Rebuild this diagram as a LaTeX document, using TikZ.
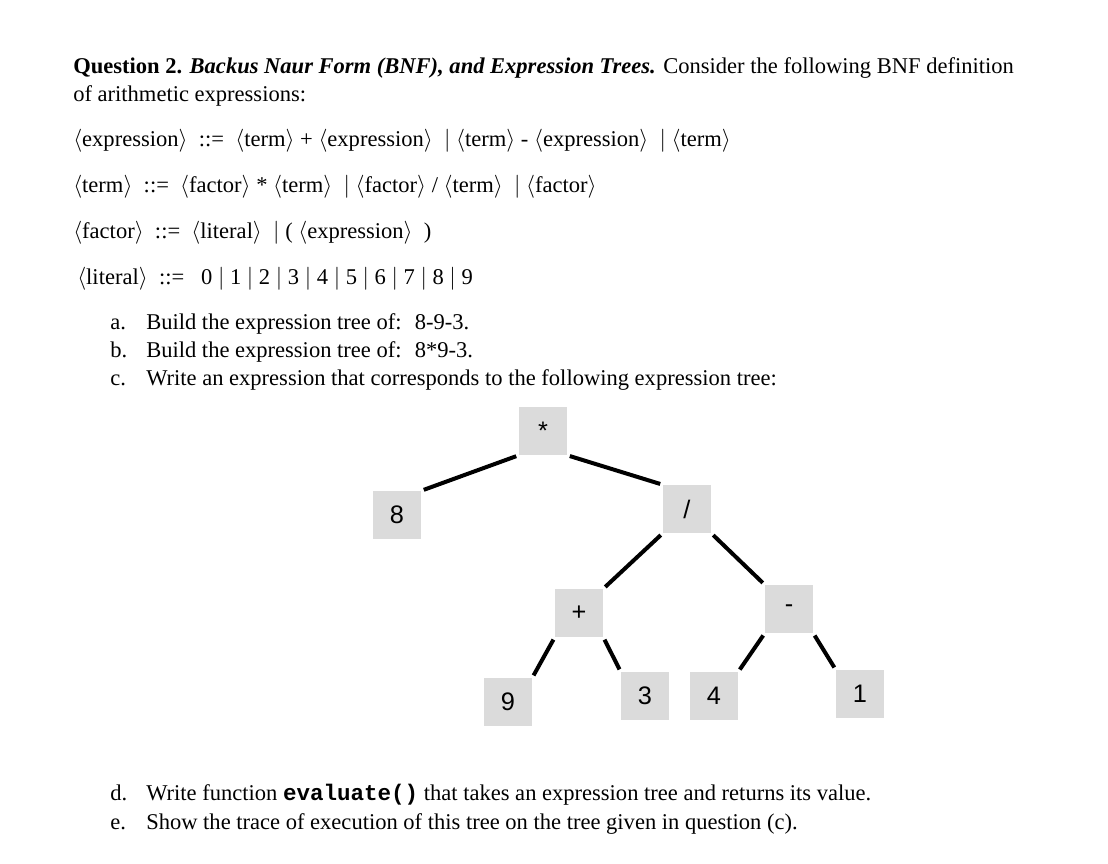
\documentclass[tikz,border=0pt]{standalone}
\usepackage{fontspec}
\setmainfont{Liberation Serif}
\setsansfont{Liberation Sans}
\setmonofont{Liberation Mono}
\begin{document}
\begin{tikzpicture}[x=0.75pt,y=-0.75pt,
  txt/.style={anchor=base west,inner sep=0pt,font=\fontsize{16.9}{20}\selectfont},
  tn/.style={fill=black!14,minimum width=36pt,minimum height=36pt,inner sep=0pt,font=\sffamily\fontsize{19}{22}\selectfont},
  edge/.style={line width=3pt,shorten >=2pt,shorten <=2pt}]
\useasboundingbox (0,0) rectangle (1108,864);
\newcommand{\nt}[1]{$\langle$#1$\rangle$}
\node[txt] (q1) at (73,73) {\textbf{Question 2.} \textbf{\textit{Backus Naur Form (BNF), and Expression Trees.}} Consider the following BNF definition};
\node[txt] (q2) at (73,101) {of arithmetic expressions:};
\node[txt] (r1) at (73,146) {\nt{expression} \ ::= \ \nt{term} + \nt{expression} \ $|$ \nt{term} - \nt{expression} \ $|$ \nt{term}};
\node[txt] (r2) at (73,192) {\nt{term} \ ::= \ \nt{factor} * \nt{term} \ $|$ \nt{factor} / \nt{term} \ $|$ \nt{factor}};
\node[txt] (r3) at (73,238) {\nt{factor} \ ::= \ \nt{literal} \ $|$ ( \nt{expression} \ )};
\node[txt] (r4) at (77,284) {\nt{literal} \ ::= \ \ 0 $|$ 1 $|$ 2 $|$ 3 $|$ 4 $|$ 5 $|$ 6 $|$ 7 $|$ 8 $|$ 9};
\node[txt] (la) at (110,329) {a.};
\node[txt] (ta) at (146,329) {Build the expression tree of: \ 8-9-3.};
\node[txt] (lb) at (110,357) {b.};
\node[txt] (tb) at (146,357) {Build the expression tree of: \ 8*9-3.};
\node[txt] (lc) at (110,385) {c.};
\node[txt] (tc) at (146,385) {Write an expression that corresponds to the following expression tree:};
\node[txt] (ld) at (110,800) {d.};
\node[txt] (td) at (146,800) {Write function \texttt{\textbf{evaluate()}} that takes an expression tree and returns its value.};
\node[txt] (le) at (110,829) {e.};
\node[txt] (te) at (146,829) {Show the trace of execution of this tree on the tree given in question (c).};
\node[tn] (mul) at (543,431) {*};
\node[tn] (n8) at (397,515) {8};
\node[tn] (div) at (687,509) {/};
\node[tn] (plus) at (579,613) {+};
\node[tn] (minus) at (789,609) {-};
\node[tn] (n9) at (508,702) {9};
\node[tn] (n3) at (645,696) {3};
\node[tn] (n4) at (714,696) {4};
\node[tn] (n1) at (860,694) {1};
\draw[edge] (mul.south west) -- (n8.north east);
\draw[edge] (mul.south east) -- (div.north west);
\draw[edge] (div.south west) -- (plus.north east);
\draw[edge] (div.south east) -- (minus.north west);
\draw[edge] (plus.south west) -- (n9.north east);
\draw[edge] (plus.south east) -- (n3.north west);
\draw[edge] (minus.south west) -- (n4.north east);
\draw[edge] (minus.south east) -- (n1.north west);
\end{tikzpicture}
\end{document}
